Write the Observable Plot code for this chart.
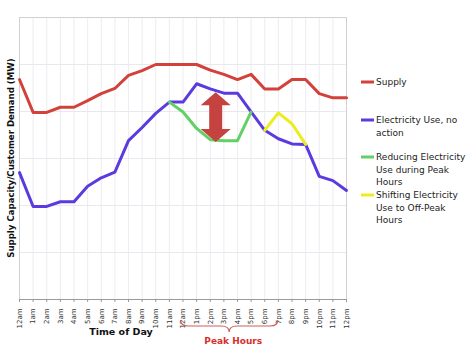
<!DOCTYPE html>
<html><head><meta charset="utf-8">
<script src="https://cdn.jsdelivr.net/npm/d3@7"></script>
<script src="https://cdn.jsdelivr.net/npm/@observablehq/plot@0.6"></script>
<style>body{margin:0;background:#fff}</style>
</head><body><div id="chart"></div>
<script>
// ---- data ----
const hours = d3.range(0, 25);
const tickLabels = ["12am","1am","2am","3am","4am","5am","6am","7am","8am","9am","10am","11am",
  "12am","1pm","2pm","3pm","4pm","5pm","6pm","7pm","8pm","9pm","10pm","11pm","12pm"];
const supply   = [468,398,398,409,409,423,438,449,477,487,500,500,500,500,488,479,468,479,448,448,468,468,438,429,429];
const noAction = [270,198,198,208,208,241,259,271,338,366,396,420,420,459,448,439,439,399,360,342,331,330,262,253,232];
const reducingHours = [11,12,13,14,15,16,17];
const reducing      = [420,399,364,340,338,338,399];
const shiftingHours = [18,19,20,21];
const shifting      = [360,397,374,330];
const arrowAt = [{x: 14.4, top: 441, bottom: 335}];
const seriesColors = ["#d2413a","#5b3be0","#62d065","#ecec1e"];
const legendLines = [["Supply"],["Electricity Use, no","action"],["Reducing Electricity","Use during Peak","Hours"],["Shifting Electricity","Use to Off-Peak","Hours"]];
const peakRange = [12, 19];

const toRows = (xs, ys) => xs.map((x, i) => ({x, y: ys[i]}));

const headUp = {draw(ctx){ const w = 15, h = 13; ctx.moveTo(0,0); ctx.lineTo(w,h); ctx.lineTo(-w,h); ctx.closePath(); }};
const headDown = {draw(ctx){ const w = 15, h = 13; ctx.moveTo(0,0); ctx.lineTo(w,-h); ctx.lineTo(-w,-h); ctx.closePath(); }};

const plot = Plot.plot({
  width: 474, height: 355,
  marginLeft: 19, marginRight: 128, marginTop: 17, marginBottom: 56,
  style: {fontFamily: "DejaVu Sans, sans-serif", background: "#fff"},
  x: {domain: [0, 24]},
  y: {domain: [0, 600], axis: null},
  marks: [
    Plot.gridX(hours, {stroke: "#ededf2", strokeOpacity: 1}),
    Plot.gridY(d3.range(100, 600, 100), {stroke: "#e8e8ee", strokeOpacity: 1}),
    Plot.frame({stroke: "#d0d0d0"}),
    Plot.ruleY([0], {stroke: "#9a9a9a"}),
    Plot.axisX(hours, {tickFormat: i => tickLabels[i], tickRotate: -90, tickSize: 3, fontSize: 7, label: null, stroke: "#999", fill: "#333"}),
    Plot.line(toRows(hours, supply), {x: "x", y: "y", stroke: seriesColors[0], strokeWidth: 3}),
    Plot.line(toRows(hours, noAction), {x: "x", y: "y", stroke: seriesColors[1], strokeWidth: 3}),
    Plot.line(toRows(reducingHours, reducing), {x: "x", y: "y", stroke: seriesColors[2], strokeWidth: 3}),
    Plot.line(toRows(shiftingHours, shifting), {x: "x", y: "y", stroke: seriesColors[3], strokeWidth: 3}),
    Plot.ruleX(arrowAt, {x: "x", y1: d => d.top - 20, y2: d => d.bottom + 20, stroke: "#c4423f", strokeWidth: 13}),
    Plot.dot(arrowAt, {x: "x", y: "top", symbol: headUp, fill: "#c4423f", stroke: null, r: 5}),
    Plot.dot(arrowAt, {x: "x", y: "bottom", symbol: headDown, fill: "#c4423f", stroke: null, r: 5})
  ]
});

const svg = d3.select(plot);
const xs = plot.scale("x"), ys = plot.scale("y");
const X = v => xs.apply(v), Y = v => ys.apply(v);

// y axis title
svg.append("text")
  .attr("transform", `translate(11,${(Y(0)+Y(600))/2}) rotate(-90)`)
  .attr("text-anchor", "middle").attr("dominant-baseline", "middle")
  .attr("font-size", 8.6).attr("font-weight", "bold").attr("fill", "#111")
  .text("Supply Capacity/Customer Demand (MW)");

// x axis title
svg.append("text")
  .attr("x", 121).attr("y", 332)
  .attr("text-anchor", "middle").attr("dominant-baseline", "middle")
  .attr("font-size", 9.5).attr("font-weight", "bold").attr("fill", "#111")
  .text("Time of Day");

// peak hours brace
const bx0 = X(peakRange[0]) - 2, bx1 = X(peakRange[1]), bm = (bx0 + bx1) / 2, by = 320, bh = 12;
svg.append("path")
  .attr("d", `M${bx0},${by} Q${bx0},${by+bh/2} ${bx0+8},${by+bh/2} L${bm-8},${by+bh/2} Q${bm},${by+bh/2} ${bm},${by+bh} Q${bm},${by+bh/2} ${bm+8},${by+bh/2} L${bx1-8},${by+bh/2} Q${bx1},${by+bh/2} ${bx1},${by}`)
  .attr("fill", "none").attr("stroke", "#c9605c").attr("stroke-width", 1.2);
svg.append("text")
  .attr("x", bm + 4).attr("y", 341)
  .attr("text-anchor", "middle").attr("dominant-baseline", "middle")
  .attr("font-size", 9).attr("font-weight", "bold").attr("fill", "#d8302a")
  .text("Peak Hours");

// legend
const legendY = [82, 120, 157, 195];
const lg = svg.append("g").attr("text-anchor", "start");
legendLines.forEach((lines, i) => {
  lg.append("line").attr("x1", 361).attr("x2", 374).attr("y1", legendY[i]).attr("y2", legendY[i])
    .attr("stroke", seriesColors[i]).attr("stroke-width", 3);
  const t = lg.append("text").attr("x", 376).attr("y", legendY[i])
    .attr("text-anchor", "start")
    .attr("font-size", 9).attr("fill", "#222").attr("dominant-baseline", "middle");
  lines.forEach((s, j) => t.append("tspan").attr("x", 376).attr("dy", j ? 12.6 : 0).text(s));
});

document.getElementById("chart").appendChild(plot);
</script>
</body></html>
